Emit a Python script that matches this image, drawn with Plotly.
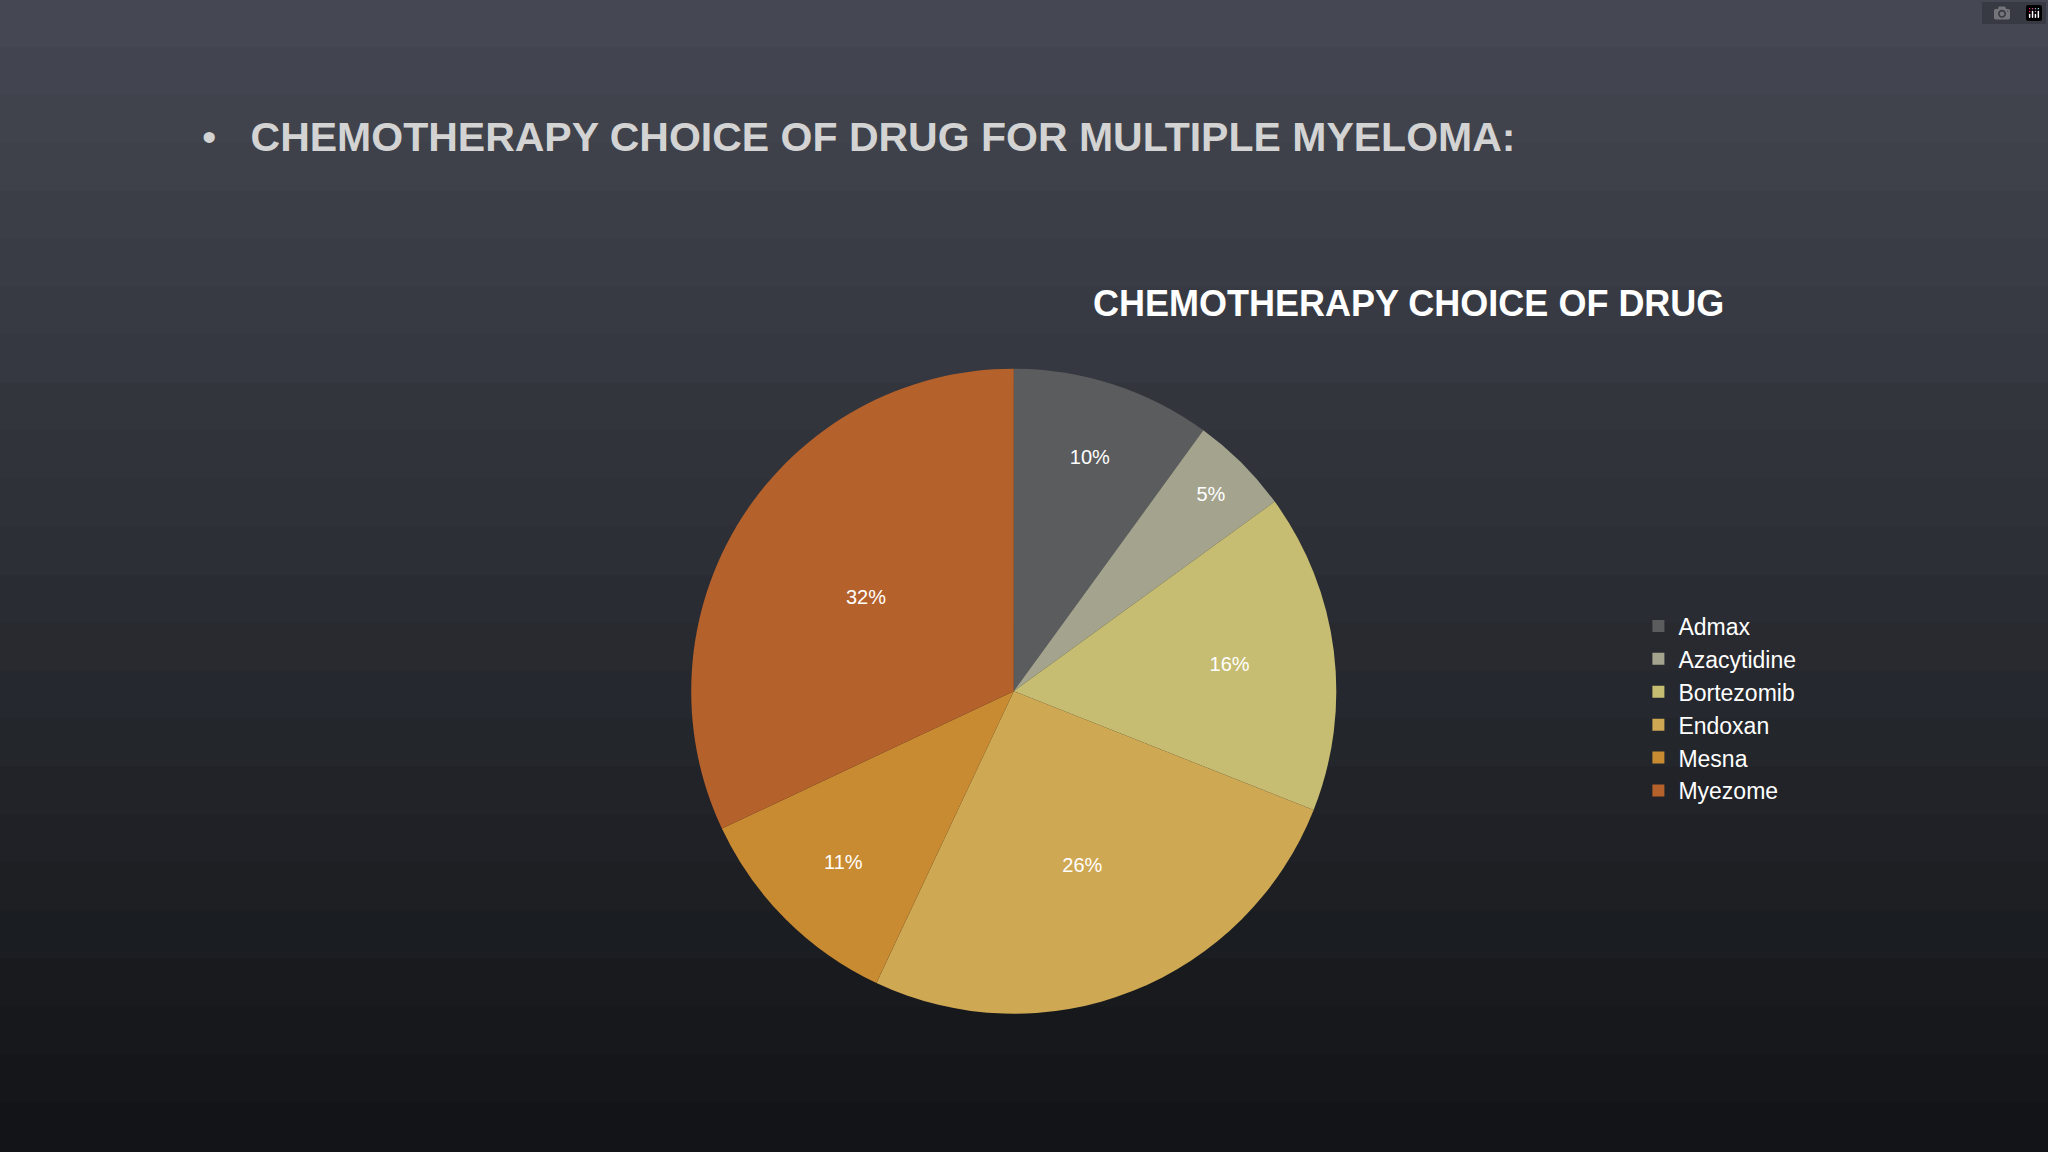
import plotly.graph_objects as go

drugs = ["Admax", "Azacytidine", "Bortezomib", "Endoxan", "Mesna", "Myezome"]
shares = [10, 5, 16, 26, 11, 32]
colors = ["#5b5c5e", "#a4a48e", "#c6bd72", "#cfa853", "#c98b32", "#b5612b"]

fig = go.Figure(go.Pie(
    labels=drugs, values=shares, sort=False, direction="clockwise", rotation=0,
    marker=dict(colors=colors, line=dict(width=0)),
    textinfo="percent", texttemplate="%{percent:.0%}", textposition="inside",
    insidetextorientation="horizontal",
    textfont=dict(color="white", size=20, family="Liberation Sans, Arial"),
    domain=dict(x=[0.33, 0.66], y=[0.12, 0.68]),
))

shapes = []
n = 24
top = (0x45, 0x48, 0x52); bot = (0x12, 0x14, 0x17)
for i in range(n):
    t = i / (n - 1)
    c = tuple(int(top[k] + (bot[k] - top[k]) * t) for k in range(3))
    shapes.append(dict(type="rect", xref="paper", yref="paper", layer="below",
                       x0=0, x1=1, y0=1 - (i + 1) / n, y1=1 - i / n + 0.001,
                       fillcolor="rgb(%d,%d,%d)" % c, line=dict(width=0)))

fig.update_layout(
    width=2048, height=1152, margin=dict(l=0, r=0, t=0, b=0),
    paper_bgcolor="#2a2c32", shapes=shapes,
    font=dict(family="Liberation Sans, Arial", color="white"),
    showlegend=True,
    legend=dict(x=0.80, y=0.385, yanchor="middle", bgcolor="rgba(0,0,0,0)",
                font=dict(size=23, color="white"), itemwidth=30),
    annotations=[
        dict(text="•&nbsp;&nbsp;&nbsp;<b>CHEMOTHERAPY CHOICE OF DRUG FOR MULTIPLE MYELOMA:</b>",
             xref="paper", yref="paper", x=200/2048, y=1-137/1152, xanchor="left", yanchor="middle",
             showarrow=False, font=dict(size=41, color="#d3d3d3")),
        dict(text="<b>CHEMOTHERAPY CHOICE OF DRUG</b>", xref="paper", yref="paper",
             x=1408/2048, y=1-304/1152, xanchor="center", yanchor="middle",
             showarrow=False, font=dict(size=36, color="white")),
    ],
)
fig.write_html("out.html")
with open("out.html", encoding="utf-8") as f:
    html = f.read()
html = html.replace("<body>", '<body style="margin:0;background:#15171b">', 1)
with open("out.html", "w", encoding="utf-8") as f:
    f.write(html)
